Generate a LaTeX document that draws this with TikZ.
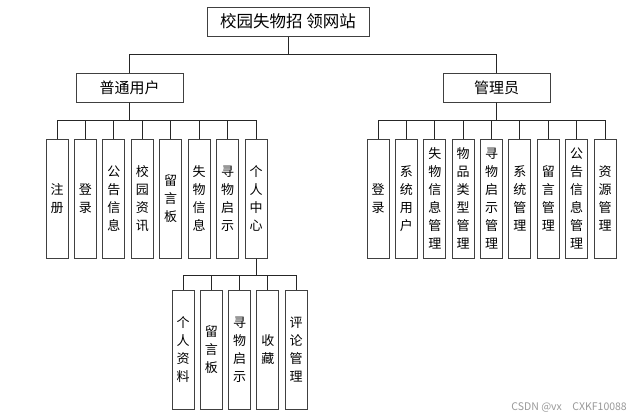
\documentclass[tikz,border=0pt]{standalone}
\usepackage{fontspec}
\setmainfont{Noto Sans CJK SC}
\usetikzlibrary{positioning}

\begin{document}
\begin{tikzpicture}[x=1pt,y=-1pt]
    \useasboundingbox (0,0) rectangle (632,418);
    \begin{scope}[every node/.style={draw=black!75, line width=1pt, inner sep=0pt, align=center,
        font=\fontsize{13}{18}\selectfont}]
        \node[minimum width=162, minimum height=29, font=\fontsize{16.5}{20}\selectfont] (root) at (288,21.5) {校园失物招 领网站};
        \node[minimum width=107, minimum height=29, font=\fontsize{15}{18}\selectfont] (user) at (129.5,87.5) {普通用户};
        \node[minimum width=107, minimum height=29, font=\fontsize{15}{18}\selectfont] (admin) at (496.5,87.5) {管理员};
        \foreach \t [count=\i] in {{注\\册},{登\\录},{公\\告\\信\\息},{校\\园\\资\\讯},{留\\言\\板},{失\\物\\信\\息},{寻\\物\\启\\示},{个\\人\\中\\心}}
            \node[minimum width=22, minimum height=119] (u\i) at ({57+(\i-1)*28.43},198.5) {\t};
        \foreach \t [count=\i] in {{登\\录},{系\\统\\用\\户},{失\\物\\信\\息\\管\\理},{物\\品\\类\\型\\管\\理},{寻\\物\\启\\示\\管\\理},{系\\统\\管\\理},{留\\言\\管\\理},{公\\告\\信\\息\\管\\理},{资\\源\\管\\理}}
            \node[minimum width=22, minimum height=119] (a\i) at ({378+(\i-1)*28.375},198.5) {\t};
        \foreach \t [count=\i] in {{个\\人\\资\\料},{留\\言\\板},{寻\\物\\启\\示},{收\\藏},{评\\论\\管\\理}}
            \node[minimum width=22, minimum height=119] (p\i) at ({183+(\i-1)*28.25},349.5) {\t};
    \end{scope}

    \begin{scope}[line width=0.9pt, draw=black!85]
        \draw (root.south) -- ++(0,18) -| (user.north);
        \draw (root.south) -- ++(0,18) -| (admin.north);
        \foreach \i in {1,...,8}
            \draw (user.south) -- ++(0,18) -| (u\i.north);
        \foreach \i in {1,...,9}
            \draw (admin.south) -- ++(0,18) -| (a\i.north);
        \foreach \i in {1,...,5}
            \draw (u8.south) -- ++(0,17) -| (p\i.north);
    \end{scope}

    \node[text=black!40, font=\fontsize{10.5}{12}\selectfont, anchor=east, inner sep=0pt] (wm) at (627,407) {CSDN @vx\quad CXKF10088};
\end{tikzpicture}
\end{document}
